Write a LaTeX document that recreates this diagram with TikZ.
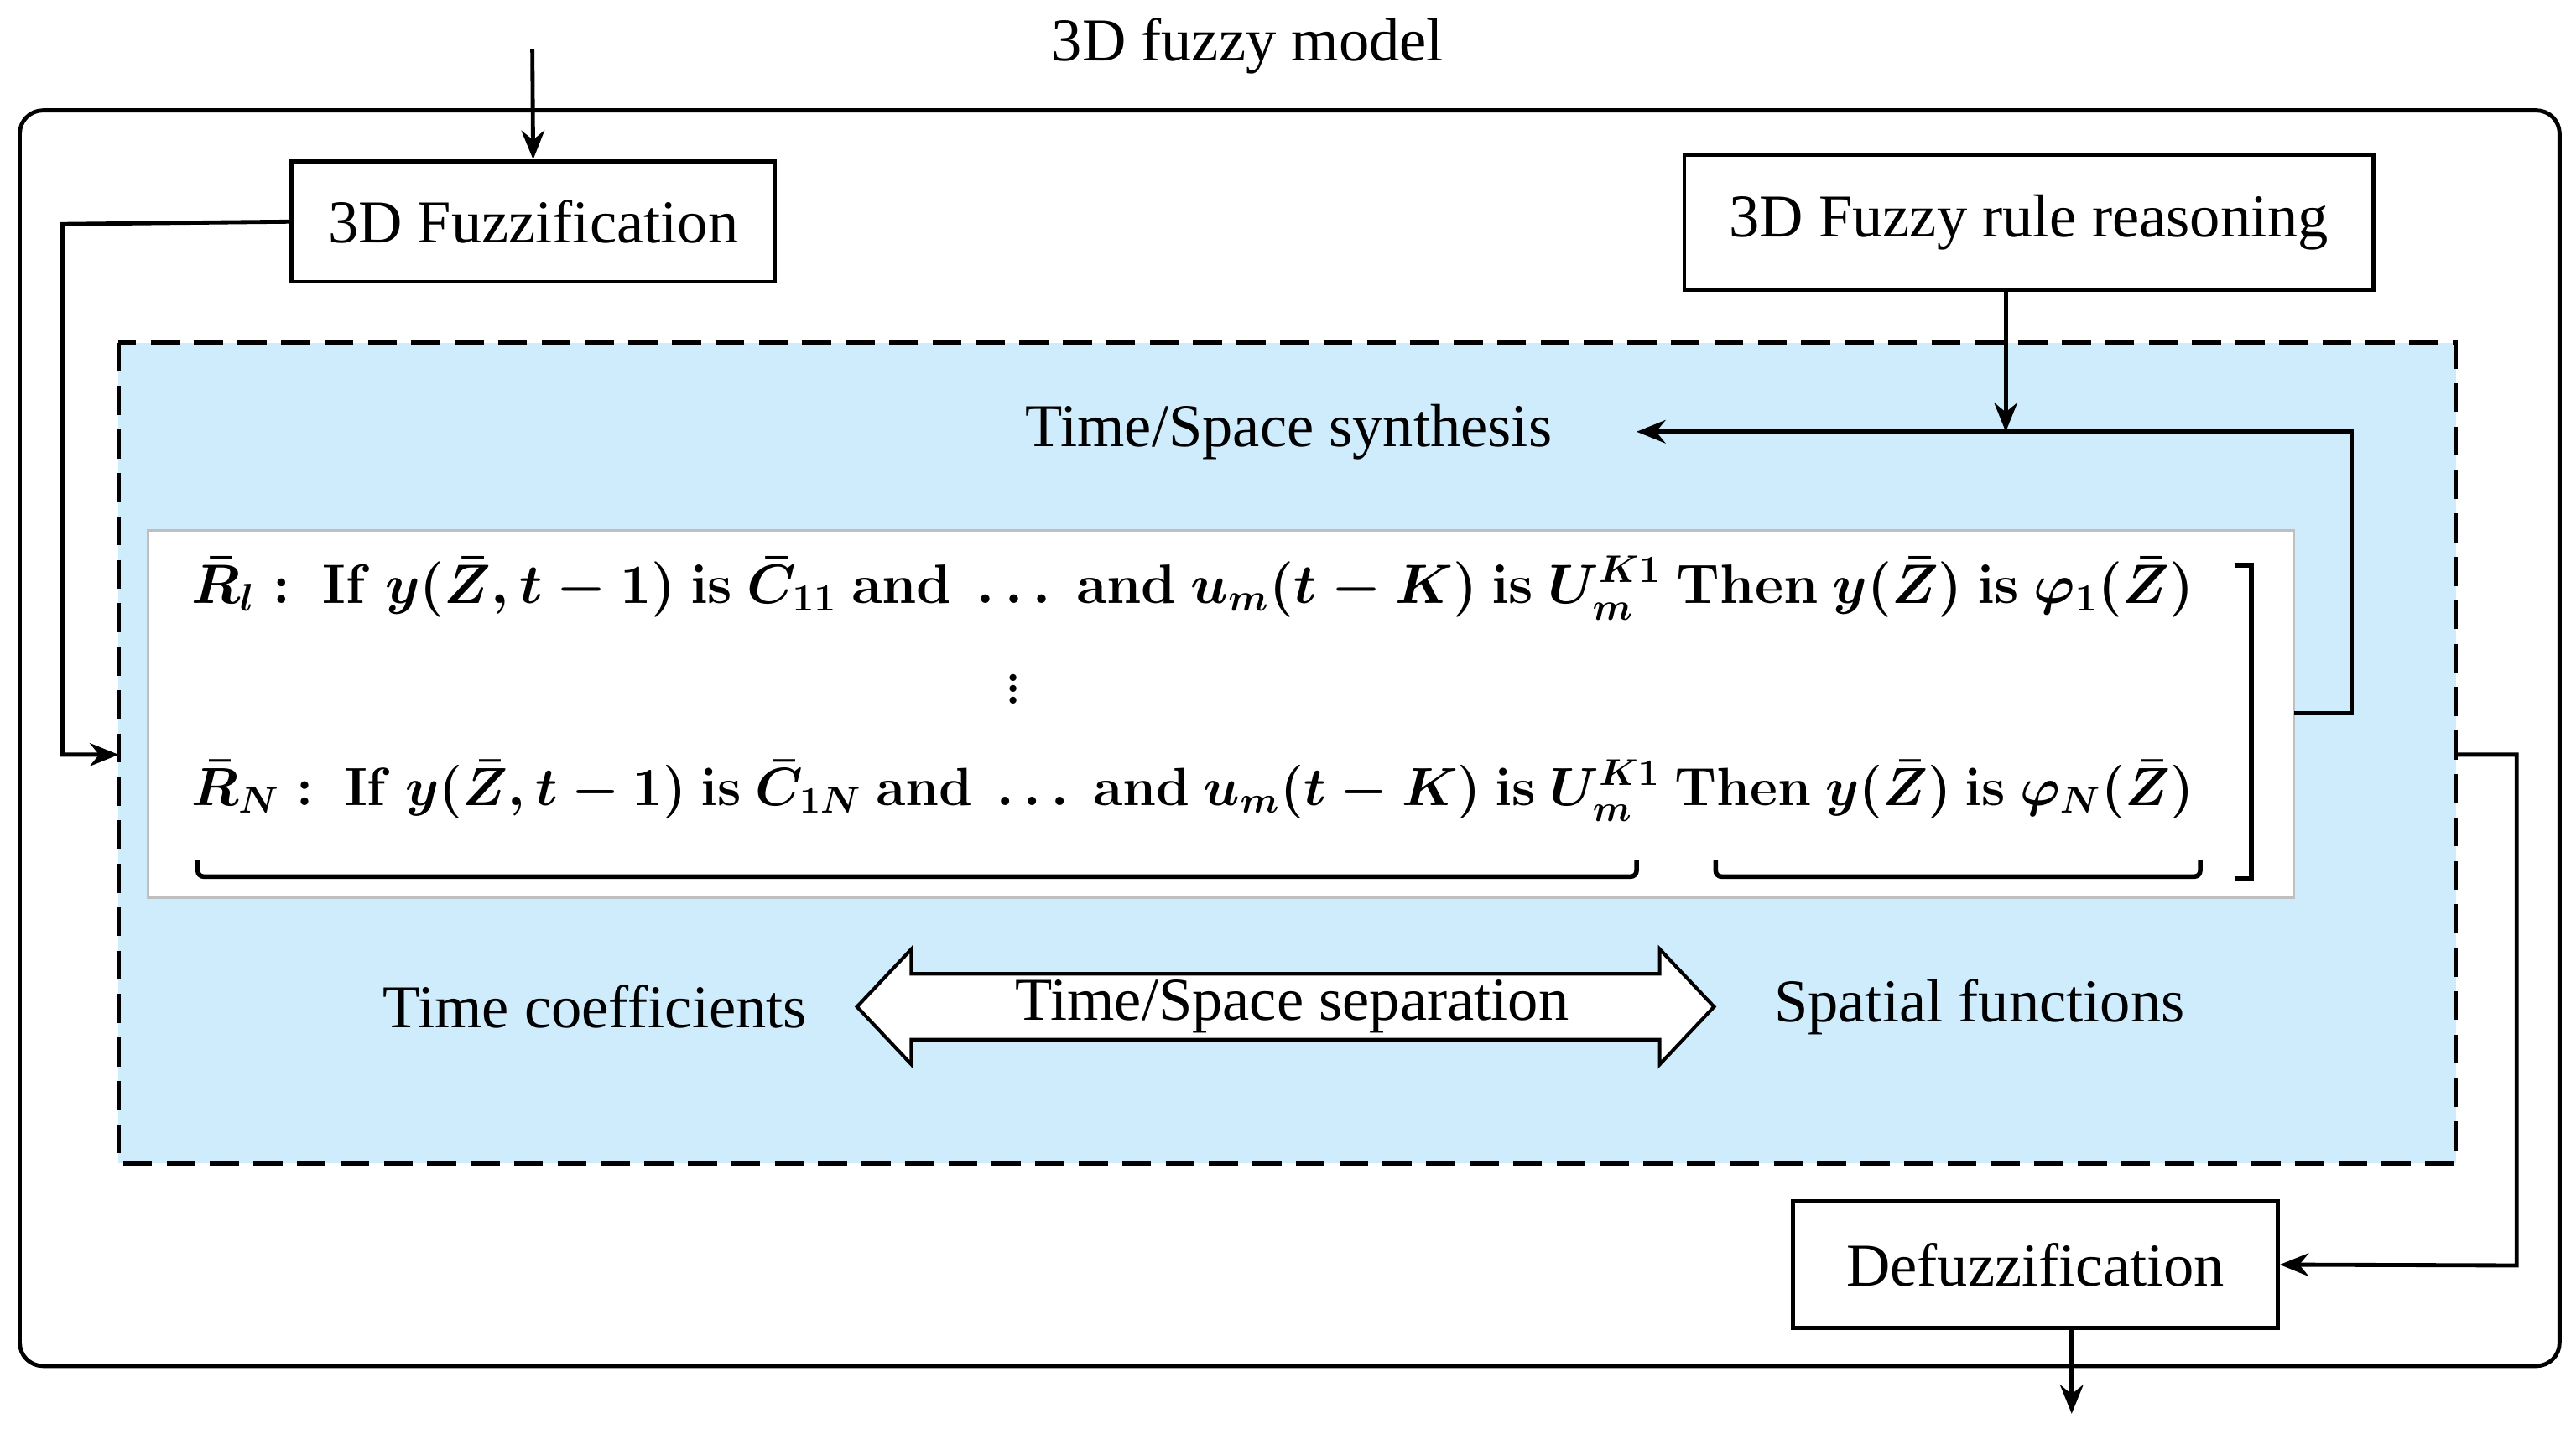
\documentclass[tikz,border=0pt]{standalone}
\usepackage{fontspec}
\setmainfont{Liberation Serif}
\usepackage{amsmath,amssymb,graphicx}
\usetikzlibrary{arrows.meta,shapes.arrows}
\definecolor{lblue}{RGB}{206,236,252}
\begin{document}
\begin{tikzpicture}[x=0.02cm,y=-0.02cm,line width=1.4pt,
  box/.style={draw,line width=1.4pt,fill=white,inner sep=0pt,font=\fontsize{21}{24}\selectfont},
  lbl/.style={font=\fontsize{21}{24}\selectfont,inner sep=0pt},
  rule/.style={anchor=west,inner sep=0pt,font=\fontsize{18}{22}\selectfont\boldmath},
  arr/.style={-{Stealth[length=10pt,width=8pt]}}]
\useasboundingbox (0,0) rectangle (1563,870);
\node[lbl] (title) at (757,28) {3D fuzzy model};
\draw[rounded corners=8pt] (12,67) rectangle (1553,829);
\draw[dashed,dash pattern=on 10pt off 5pt,fill=lblue] (72,208) rectangle (1490,706);
\node[box,minimum width=293*0.02cm,minimum height=73*0.02cm] (fz) at (323.5,134.5) {3D Fuzzification};
\node[box,minimum width=418*0.02cm,minimum height=82*0.02cm] (rr) at (1231,135) {3D Fuzzy rule reasoning};
\node[box,minimum width=294*0.02cm,minimum height=77*0.02cm] (df) at (1235,767.5) {Defuzzification};
\coordinate (in) at (323,30);
\draw[arr] (in) -- (fz.north);
\coordinate (fe) at (72,458);
\draw[arr] (fz.west) -- (38,136) -- (38,458) -- (fe);
\node[lbl] (syn) at (782,262) {Time/Space synthesis};
\draw[arr] (1217,176) -- (1217,262);
\node[draw=gray!50,line width=0.8pt,fill=white,minimum width=1302*0.02cm,minimum height=223*0.02cm,inner sep=0pt] (rules) at (741,433.5) {};
\coordinate (ro) at (1392,433);
\draw[arr] (ro) -- (1427,433) -- (1427,262) -- (993,262);
\node[rule] (r1) at (115,357) {\resizebox{24.3cm}{!}{$\bar{R}_l:\ \mathbf{If}\ y(\bar{Z},t-1)\ \mathbf{is}\ \bar{C}_{11}\ \mathbf{and}\ \ldots\ \mathbf{and}\ u_m(t-K)\ \mathbf{is}\ U_m^{K1}\ \mathbf{Then}\ y(\bar{Z})\ \mathbf{is}\ \varphi_1(\bar{Z})$}};
\node[inner sep=0pt,font=\fontsize{20}{22}\selectfont] (vd) at (615,413) {$\vdots$};
\node[rule] (r2) at (115,480) {\resizebox{24.3cm}{!}{$\bar{R}_N:\ \mathbf{If}\ y(\bar{Z},t-1)\ \mathbf{is}\ \bar{C}_{1N}\ \mathbf{and}\ \ldots\ \mathbf{and}\ u_m(t-K)\ \mathbf{is}\ U_m^{K1}\ \mathbf{Then}\ y(\bar{Z})\ \mathbf{is}\ \varphi_N(\bar{Z})$}};
\draw[line width=1.6pt,rounded corners=2pt] (120,522) -- (120,532) -- (993,532) -- (993,522);
\draw[line width=1.6pt,rounded corners=2pt] (1041,522) -- (1041,532) -- (1335,532) -- (1335,522);
\draw[line width=1.6pt] (1356,343) -- (1366,343) -- (1366,533) -- (1356,533);
\draw[line width=1.2pt,fill=white] (520,611) -- (553,576) -- (553,591) -- (1007,591) -- (1007,576) -- (1040,611) -- (1007,646) -- (1007,631) -- (553,631) -- (553,646) -- cycle;
\node[lbl] (sep) at (784,611) {Time/Space separation};
\node[lbl] (tc) at (361,611) {Time coefficients};
\node[lbl] (sf) at (1201,611) {Spatial functions};
\coordinate (rr2) at (1490,458);
\draw[arr] (rr2) -- (1527,458) -- (1527,768) -- (df.east);
\coordinate (out) at (1257,858);
\draw[arr] (1257,806) -- (out);
\end{tikzpicture}
\end{document}
